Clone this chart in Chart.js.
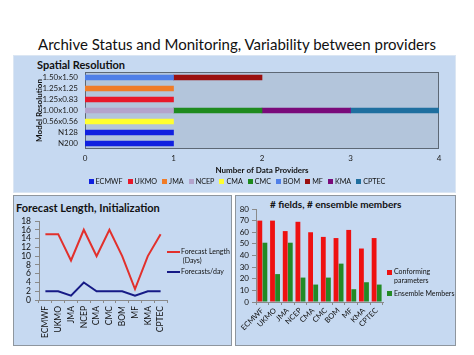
<!DOCTYPE html>
<html><head><meta charset="utf-8">
<script src="https://cdn.jsdelivr.net/npm/chart.js@4/dist/chart.umd.min.js"></script>
<style>
html,body{margin:0;padding:0;background:#fff;width:474px;height:355px;overflow:hidden;font-family:Lato,"Open Sans",sans-serif;color:#111;}
.abs{position:absolute;}
#mainTitle{left:0;top:35px;width:474px;text-align:center;font-size:15px;}
.panel{position:absolute;background:#c6d9f1;box-sizing:border-box;}
#p1{left:13px;top:55px;width:443px;height:138px;border:1px solid #dbe6f3;}
#p2{left:13px;top:195px;width:219px;height:151px;border:1px solid #8e969e;}
#p3{left:235px;top:195px;width:221px;height:151px;border:1px solid #8e969e;}
.title{position:absolute;font-weight:bold;white-space:nowrap;}
.wrap{position:absolute;}
#legTop{left:0;width:474px;top:177px;display:flex;justify-content:center;gap:5px;font-size:7.2px;}
#legTop span.sw{display:inline-block;width:5px;height:5px;margin-right:2px;vertical-align:middle;position:relative;top:-1px;}
.leg{position:absolute;font-size:7px;line-height:8.5px;white-space:nowrap;}
.ln{position:absolute;height:2px;width:13px;}
.sq{position:absolute;width:5px;height:5px;}
</style></head>
<body>
<div id="mainTitle" class="abs">Archive Status and Monitoring, Variability between providers</div>
<div id="p1" class="panel"></div>
<div id="p2" class="panel"></div>
<div id="p3" class="panel"></div>
<div class="title" style="left:37px;top:58px;font-size:11px;">Spatial Resolution</div>
<div class="title" style="left:16px;top:201px;font-size:11px;">Forecast Length, Initialization</div>
<div class="title" style="left:270px;top:198px;font-size:10px;"># fields, # ensemble members</div>
<div class="wrap" style="left:13px;top:55px;"><canvas id="c1" width="443" height="138"></canvas></div>
<div class="wrap" style="left:13px;top:195px;"><canvas id="c2" width="219" height="151"></canvas></div>
<div class="wrap" style="left:235px;top:195px;"><canvas id="c3" width="221" height="151"></canvas></div>
<div id="legTop" class="abs"></div>
<div class="ln" style="left:167px;top:251px;background:#e2302c;"></div>
<div class="leg" style="left:181px;top:247px;">Forecast Length<br>&nbsp;(Days)</div>
<div class="ln" style="left:167px;top:271px;background:#161a86;"></div>
<div class="leg" style="left:181px;top:267px;">Forecasts/day</div>
<div class="sq" style="left:387px;top:270px;background:#ee1111;"></div>
<div class="leg" style="left:394px;top:267px;">Conforming<br>parameters</div>
<div class="sq" style="left:387px;top:291px;background:#238a25;"></div>
<div class="leg" style="left:394px;top:289px;">Ensemble Members</div>
<script>
// ---- data ----
const resolutions = ['1.50x1.50','1.25x1.25','1.25x0.83','1.00x1.00','0.56x0.56','N128','N200'];
const providers = ['ECMWF','UKMO','JMA','NCEP','CMA','CMC','BOM','MF','KMA','CPTEC'];
const providerColors = ['#1020e0','#e8182a','#f07c28','#b4a4cc','#ffff30','#1e8a1e','#4f7fe8','#9a1010','#7a0a7a','#1f6f9f'];
// number of data providers per resolution, per provider
const resECMWF = [null,null,null,null,null,1,1];
const resUKMO  = [null,null,1,null,null,null,null];
const resJMA   = [null,1,null,null,null,null,null];
const resNCEP  = [null,null,null,1,null,null,null];
const resCMA   = [null,null,null,null,1,null,null];
const resCMC   = [null,null,null,1,null,null,null];
const resBOM   = [1,null,null,null,null,null,null];
const resMF    = [1,null,null,null,null,null,null];
const resKMA   = [null,null,null,1,null,null,null];
const resCPTEC = [null,null,null,1,null,null,null];
const providerTicks = [0,1,2,3,4];

const forecastLengthDays = [15,15,9,16,10,16,10,2.5,10,15];
const forecastsPerDay    = [2,2,1,4,2,2,2,1,2,2];
const conformingParams   = [70,70,61,69,60,56,55,62,46,55];
const ensembleMembers    = [51,24,51,21,15,21,33,11,17,15];

const resByProvider = [resECMWF,resUKMO,resJMA,resNCEP,resCMA,resCMC,resBOM,resMF,resKMA,resCPTEC];
Chart.defaults.font.family = 'Lato';
Chart.defaults.color = '#111';

const lt = document.getElementById('legTop');
providers.forEach((p,i)=>{
  const d=document.createElement('span');
  d.innerHTML='<span class="sw" style="background:'+providerColors[i]+'"></span>'+p;
  lt.appendChild(d);
});

const plotBg = {
  id:'plotBg',
  beforeDraw(chart){
    const a=chart.chartArea, ctx=chart.ctx;
    ctx.save();
    ctx.fillStyle='#b3c5db';
    ctx.fillRect(a.left,a.top,a.right-a.left,a.bottom-a.top);
    ctx.strokeStyle='#5d6875';ctx.lineWidth=1;
    ctx.strokeRect(a.left+0.5,a.top+0.5,a.right-a.left-1,a.bottom-a.top-1);
    ctx.restore();
  }
};

new Chart(document.getElementById('c1'),{
  type:'bar',
  data:{labels:resolutions,datasets:providers.map((p,i)=>({label:p,data:resByProvider[i],backgroundColor:providerColors[i],barThickness:5,borderWidth:0}))},
  options:{indexAxis:'y',responsive:false,animation:false,
    layout:{padding:{left:18,right:17,top:17,bottom:14}},
    plugins:{legend:{display:false},tooltip:{enabled:false}},
    scales:{
      x:{stacked:true,min:providerTicks[0],max:providerTicks[providerTicks.length-1],
        afterBuildTicks(s){s.ticks=providerTicks.map(v=>({value:v}));},
        ticks:{padding:5,font:{size:8},color:'#222',autoSkip:false},
        grid:{display:false,drawTicks:false},border:{display:false},
        title:{display:true,text:'Number of Data Providers',font:{size:8,weight:'bold'},color:'#111'},
        afterFit(s){s.height=30;}},
      y:{stacked:true,ticks:{padding:7,font:{size:8},color:'#222',autoSkip:false},
        grid:{display:false,drawTicks:false},border:{display:false},
        title:{display:true,text:'Model Resolution',font:{size:8,weight:'bold'},color:'#111'},
        afterFit(s){s.width=54;}}
    }},
  plugins:[plotBg]
});

new Chart(document.getElementById('c2'),{
  type:'line',
  data:{labels:providers,datasets:[
    {label:'Forecast Length (Days)',data:forecastLengthDays,borderColor:'#e2302c',borderWidth:2,pointRadius:0,tension:0,fill:false},
    {label:'Forecasts/day',data:forecastsPerDay,borderColor:'#161a86',borderWidth:2,pointRadius:0,tension:0,fill:false}
  ]},
  options:{responsive:false,animation:false,
    layout:{padding:{left:0,right:65,top:26,bottom:6}},
    plugins:{legend:{display:false},tooltip:{enabled:false}},
    scales:{
      x:{offset:true,ticks:{minRotation:90,maxRotation:90,font:{size:8.5},color:'#111',padding:3,autoSkip:false},
        grid:{offset:true,drawOnChartArea:false,tickLength:3,color:'#8a8a8a'},border:{color:'#8a8a8a'},
        afterFit(s){s.height=40;}},
      y:{min:0,max:18,ticks:{stepSize:2,font:{size:8.5},color:'#111',padding:4,autoSkip:false},
        grid:{drawOnChartArea:false,tickLength:4,color:'#8a8a8a'},border:{color:'#8a8a8a'},
        afterFit(s){s.width=26;}}
    }}
});

new Chart(document.getElementById('c3'),{
  type:'bar',
  data:{labels:providers,datasets:[
    {label:'Conforming parameters',data:conformingParams,backgroundColor:'#ee1111',categoryPercentage:0.8,barPercentage:0.95},
    {label:'Ensemble Members',data:ensembleMembers,backgroundColor:'#238a25',categoryPercentage:0.8,barPercentage:0.95}
  ]},
  options:{responsive:false,animation:false,
    layout:{padding:{left:0,right:73,top:14,bottom:10}},
    plugins:{legend:{display:false},tooltip:{enabled:false}},
    scales:{
      x:{ticks:{minRotation:45,maxRotation:45,font:{size:7.5},color:'#111',padding:1,autoSkip:false},
        grid:{drawOnChartArea:false,tickLength:3,color:'#8a8a8a'},border:{color:'#8a8a8a'},
        afterFit(s){s.height=34;}},
      y:{min:0,max:80,ticks:{stepSize:10,font:{size:8},color:'#111',padding:3,autoSkip:false},
        grid:{drawOnChartArea:false,tickLength:4,color:'#8a8a8a'},border:{color:'#8a8a8a'},
        afterFit(s){s.width=21;}}
    }}
});
</script>
</body></html>
